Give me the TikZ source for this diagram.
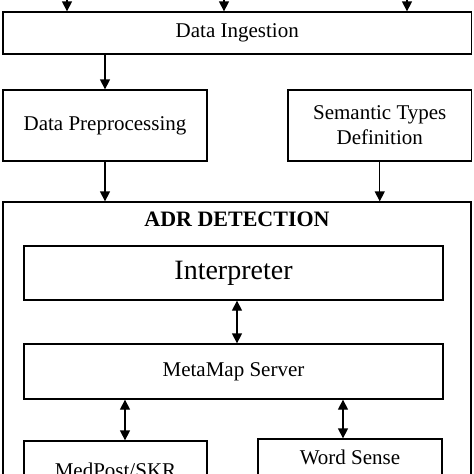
\documentclass[tikz,border=0pt]{standalone}
\usepackage{fontspec}
\setmainfont{Liberation Serif}
\usetikzlibrary{arrows.meta}
\begin{document}
\begin{tikzpicture}[x=1pt,y=-1pt,
  box/.style={draw, line width=1.3pt, rectangle, inner sep=0pt, align=center,
    font=\fontsize{21}{25}\selectfont},
  lbl/.style={inner sep=0pt, align=center, font=\fontsize{21}{25}\selectfont},
  arr/.style={line width=1.3pt, -{Triangle[length=10pt,width=10pt]}},
  darr/.style={line width=1.3pt, {Triangle[length=10pt,width=10pt]}-{Triangle[length=10pt,width=10pt]}}]
\useasboundingbox (0,0) rectangle (474,474);
\clip (0,0) rectangle (474,474);
\fill[white] (0,0) rectangle (474,474);
% top level
\node[box, minimum width=468.5pt, minimum height=42pt] (ing) at (237.25,33) {Data Ingestion};
\node[box, minimum width=204pt, minimum height=71pt] (pre) at (105,125.5) {Data Preprocessing};
\node[box, minimum width=183.5pt, minimum height=71pt] (sem) at (379.75,125.5) {Semantic Types\\Definition};
% ADR detection frame
\node[box, minimum width=468pt, minimum height=400pt] (adr) at (237,402) {};
\node[lbl, font=\fontsize{22}{26}\bfseries] (title) at (237,219) {ADR DETECTION};
\node[box, minimum width=419pt, minimum height=54pt, font=\fontsize{28}{32}\selectfont] (interp) at (233.5,273) {Interpreter};
\node[box, minimum width=419pt, minimum height=55pt] (meta) at (233.5,371.5) {MetaMap Server};
\node[box, minimum width=183pt, minimum height=70pt] (med) at (115.5,476) {};
\node[lbl] (medt) at (115.5,470) {MedPost/SKR};
\node[box, minimum width=184pt, minimum height=70pt] (wsd) at (350,474) {};
\node[lbl] (wsdt) at (350,457) {Word Sense};
% top incoming arrows
\coordinate (t1) at (67,-5);
\coordinate (t2) at (224,-5);
\coordinate (t3) at (407,-5);
\draw[arr] (t1) -- (t1 |- ing.north);
\draw[arr] (t2) -- (t2 |- ing.north);
\draw[arr] (t3) -- (t3 |- ing.north);
% flow
\draw[arr] (pre.north |- ing.south) -- (pre.north);
\draw[arr] (pre.south) -- (pre.south |- adr.north);
\draw[arr] (sem.south) -- (sem.south |- adr.north);
\coordinate (xa) at (237,0);
\coordinate (xb) at (125,0);
\coordinate (xc) at (343,0);
\draw[darr] (xa |- interp.south) -- (xa |- meta.north);
\draw[darr] (xb |- meta.south) -- (xb |- med.north);
\draw[darr] (xc |- meta.south) -- (xc |- wsd.north);
\end{tikzpicture}
\end{document}
